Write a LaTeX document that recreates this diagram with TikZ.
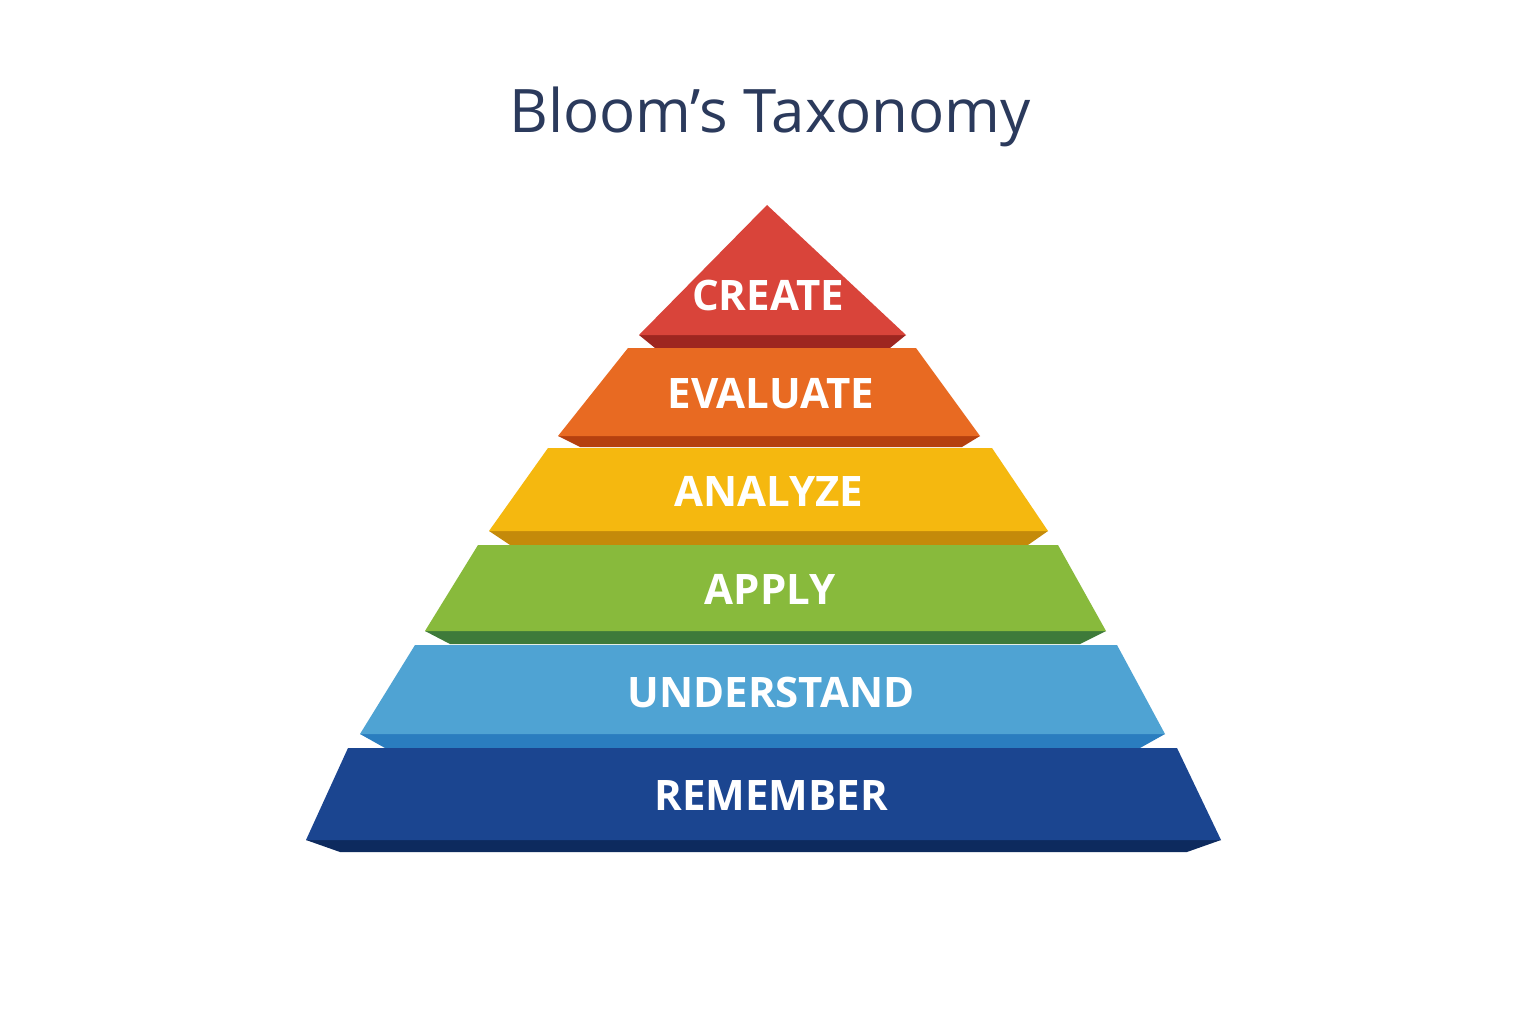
\documentclass[tikz,border=0pt]{standalone}
\usepackage{fontspec}
\setmainfont{Open Sans}
\definecolor{createc}{HTML}{D9443A}\definecolor{creates}{HTML}{9E2620}
\definecolor{evaluatec}{HTML}{E86A22}\definecolor{evaluates}{HTML}{B5400F}
\definecolor{analyzec}{HTML}{F5B80F}\definecolor{analyzes}{HTML}{C48A0A}
\definecolor{applyc}{HTML}{88BA3C}\definecolor{applys}{HTML}{3E7A3A}
\definecolor{understandc}{HTML}{4FA3D3}\definecolor{understands}{HTML}{2A7DBF}
\definecolor{rememberc}{HTML}{1B4590}\definecolor{remembers}{HTML}{0D2A5E}
\definecolor{titlec}{HTML}{2B3A5C}
\begin{document}
\begin{tikzpicture}[x=1pt,y=-1pt,
    tierlabel/.style={text=white, font=\bfseries\fontsize{42}{46}\selectfont}]
  \useasboundingbox[fill=white] (0,0) rectangle (1536,1024);
  \node[text=titlec, font=\fontsize{60}{66}\selectfont] (title) at (770,117) {Bloom's Taxonomy};
  % top y / top left / top right / bottom y / bottom left / bottom right / shadow y / shadow left / shadow right / name
  \foreach \ty/\tl/\tr/\by/\bl/\br/\sy/\sl/\sr/\nm in {
      205/767/767/335/639/906/348/655/890/create,
      348/628/916/436/558/980/447/580/962/evaluate,
      448/548/992/531/489/1048/545/510/1028/analyze,
      545/478/1058/631/425/1106/644/450/1080/apply,
      645/415/1117/734/360/1165/748/385/1140/understand,
      748/348/1177/840/306/1221/852/340/1187/remember}{
    \fill[\nm s] (\bl,\by) -- (\br,\by) -- (\sr,\sy) -- (\sl,\sy) -- cycle;
    \fill[\nm c] (\tl,\ty) -- (\tr,\ty) -- (\br,\by) -- (\bl,\by) -- cycle;
  }
  \node[tierlabel] (create) at (768,295) {CREATE};
  \node[tierlabel] (evaluate) at (771,394) {EVALUATE};
  \node[tierlabel] (analyze) at (769,491) {ANALYZE};
  \node[tierlabel] (apply) at (770,589) {APPLY};
  \node[tierlabel] (understand) at (771,692) {UNDERSTAND};
  \node[tierlabel] (remember) at (771,796) {REMEMBER};
\end{tikzpicture}
\end{document}
